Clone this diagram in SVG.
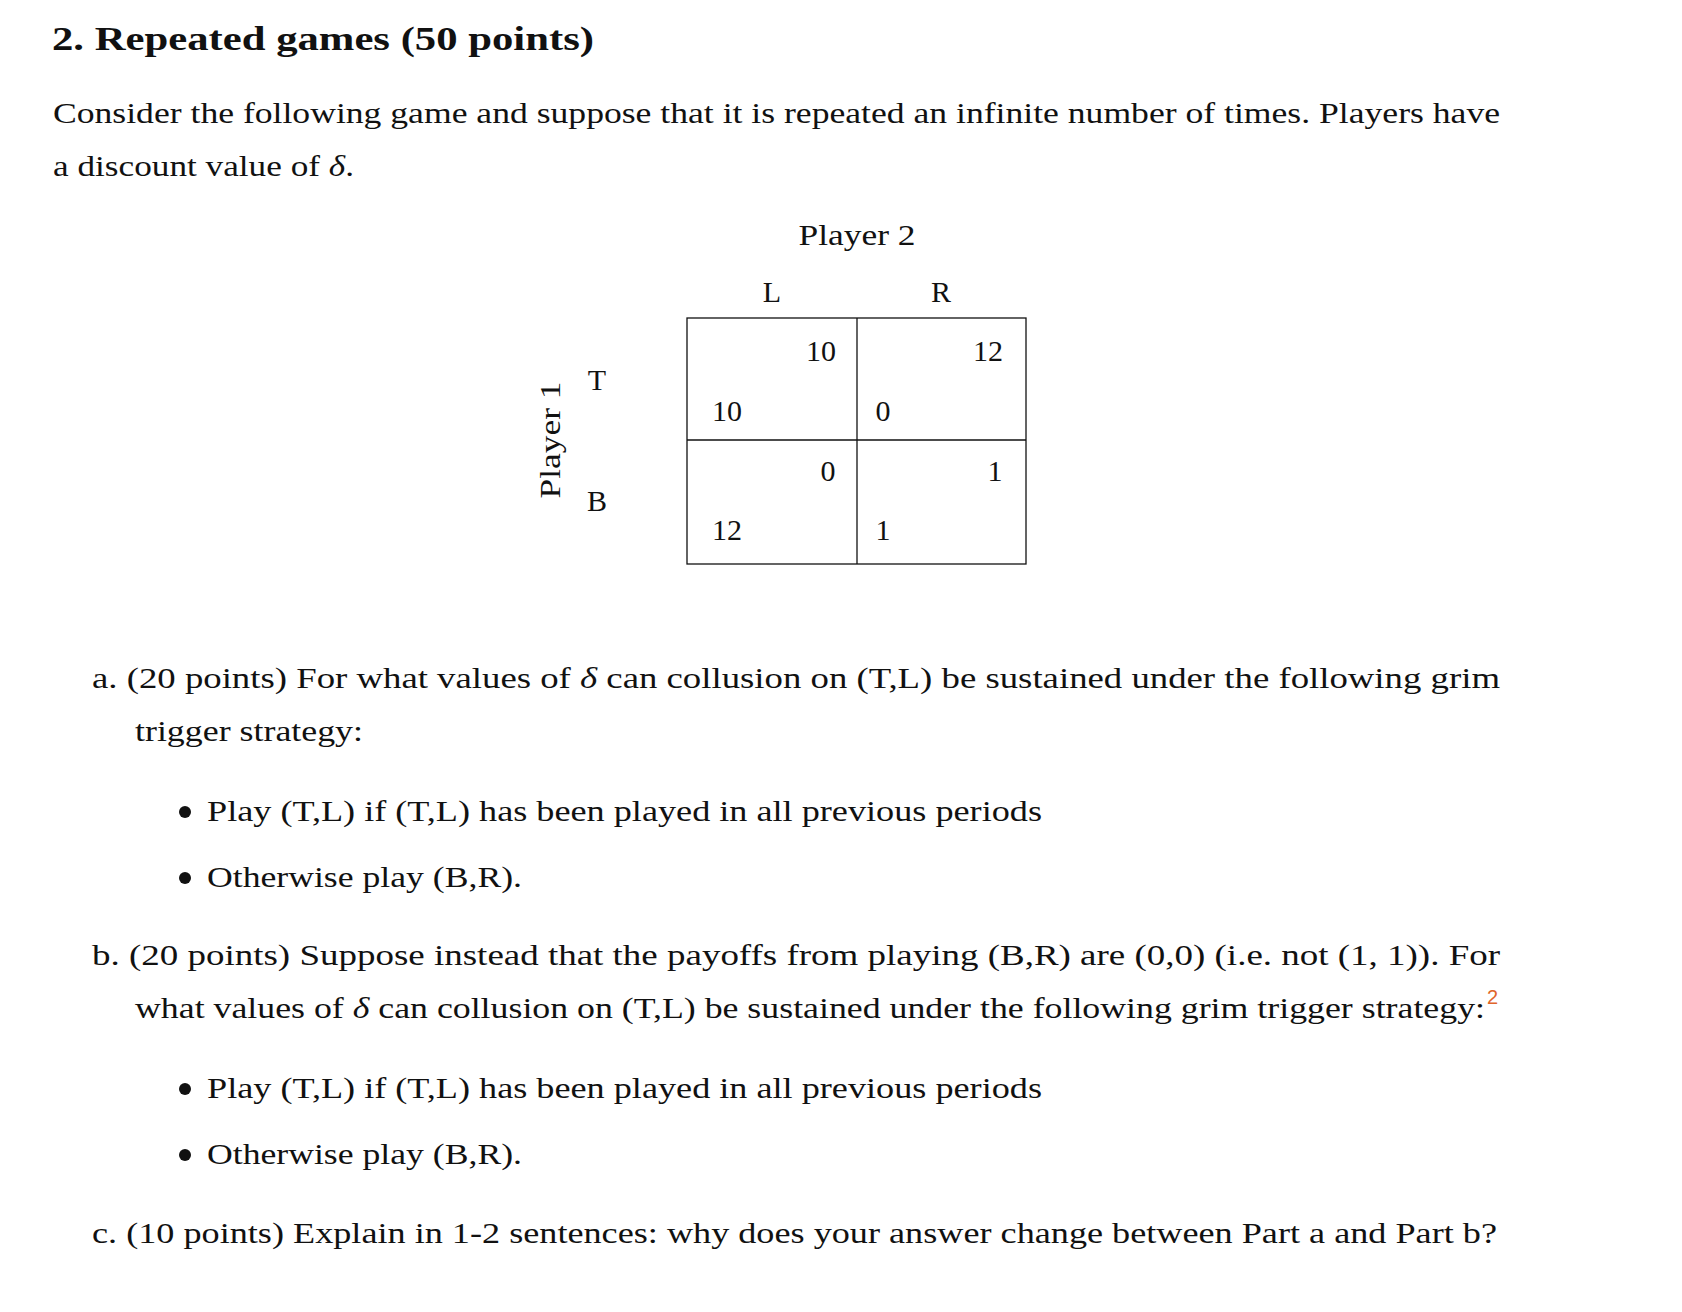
<svg xmlns="http://www.w3.org/2000/svg" width="1682" height="1312" viewBox="0 0 1682 1312">
<style>
text{font-family:"Liberation Serif","DejaVu Serif",serif;font-size:30px;fill:#111}
.t{font-weight:bold;font-size:34px}
.m{text-anchor:middle}
.b{fill:#111}
</style>
<rect width="1682" height="1312" fill="#fff"/>
<g id="title"><text class="t" x="52" y="50" textLength="542" lengthAdjust="spacingAndGlyphs">2. Repeated games (50 points)</text></g>
<g id="intro">
<text x="53" y="123" textLength="1447" lengthAdjust="spacingAndGlyphs">Consider the following game and suppose that it is repeated an infinite number of times. Players have</text>
<text x="53" y="176" textLength="301" lengthAdjust="spacingAndGlyphs">a discount value of <tspan font-style="italic">δ</tspan>.</text>
</g>
<g id="matrix">
<text class="m" x="857" y="245" textLength="117" lengthAdjust="spacingAndGlyphs">Player 2</text>
<text class="m" x="772" y="302">L</text>
<text class="m" x="941" y="302">R</text>
<rect x="687" y="318" width="339" height="246" fill="none" stroke="#111" stroke-width="1.3"/>
<line x1="857" y1="318" x2="857" y2="564" stroke="#111" stroke-width="1.3"/>
<line x1="687" y1="440" x2="1026" y2="440" stroke="#111" stroke-width="1.3"/>
<text class="m" x="821" y="361">10</text>
<text class="m" x="988" y="361">12</text>
<text class="m" x="727" y="421">10</text>
<text class="m" x="883" y="421">0</text>
<text class="m" x="828" y="481">0</text>
<text class="m" x="995" y="481">1</text>
<text class="m" x="727" y="540">12</text>
<text class="m" x="883" y="540">1</text>
<text class="m" x="597" y="390">T</text>
<text class="m" x="597" y="511">B</text>
<text class="m" transform="translate(560,440) rotate(-90)" textLength="117" lengthAdjust="spacingAndGlyphs">Player 1</text>
</g>
<g id="partA">
<text x="92" y="688" textLength="1408" lengthAdjust="spacingAndGlyphs">a. (20 points) For what values of <tspan font-style="italic">δ</tspan> can collusion on (T,L) be sustained under the following grim</text>
<text x="135" y="741" textLength="228" lengthAdjust="spacingAndGlyphs">trigger strategy:</text>
<circle class="b" cx="185" cy="812" r="6"/><text x="207" y="821" textLength="835" lengthAdjust="spacingAndGlyphs">Play (T,L) if (T,L) has been played in all previous periods</text>
<circle class="b" cx="185" cy="878" r="6"/><text x="207" y="887" textLength="315" lengthAdjust="spacingAndGlyphs">Otherwise play (B,R).</text>
</g>
<g id="partB">
<text x="92" y="965" textLength="1408" lengthAdjust="spacingAndGlyphs">b. (20 points) Suppose instead that the payoffs from playing (B,R) are (0,0) (i.e. not (1, 1)). For</text>
<text x="135" y="1018" textLength="1350" lengthAdjust="spacingAndGlyphs">what values of <tspan font-style="italic">δ</tspan> can collusion on (T,L) be sustained under the following grim trigger strategy:</text>
<text x="1487" y="1004" style="fill:#e0652a;font-family:'Liberation Sans',sans-serif;font-size:20px">2</text>
<circle class="b" cx="185" cy="1089" r="6"/><text x="207" y="1098" textLength="835" lengthAdjust="spacingAndGlyphs">Play (T,L) if (T,L) has been played in all previous periods</text>
<circle class="b" cx="185" cy="1155" r="6"/><text x="207" y="1164" textLength="315" lengthAdjust="spacingAndGlyphs">Otherwise play (B,R).</text>
</g>
<g id="partC">
<text x="92" y="1243" textLength="1405" lengthAdjust="spacingAndGlyphs">c. (10 points) Explain in 1-2 sentences: why does your answer change between Part a and Part b?</text>
</g>
</svg>
